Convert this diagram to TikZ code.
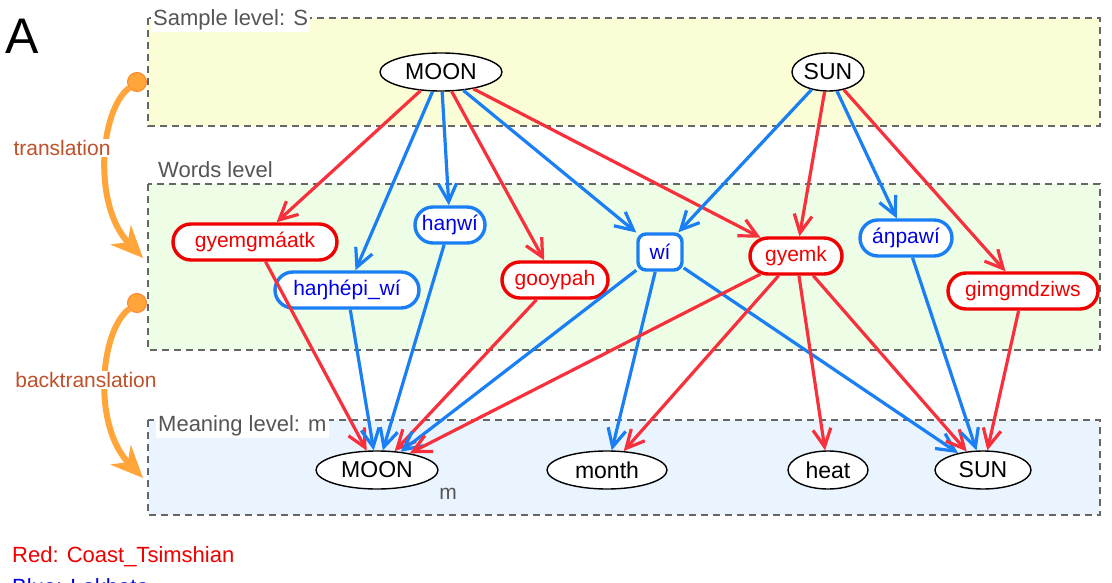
\documentclass[tikz,border=0pt]{standalone}
\usepackage{fontspec}
\setmainfont{Liberation Sans}
\usetikzlibrary{arrows.meta,shapes.geometric,shapes.misc}
\definecolor{ered}{HTML}{F8303C}
\definecolor{eblue}{HTML}{1A7FF5}
\definecolor{tred}{HTML}{F00000}
\definecolor{tblue}{HTML}{0000E6}
\definecolor{lvl}{HTML}{555555}
\definecolor{org}{HTML}{FFA53A}
\definecolor{brn}{HTML}{C0502A}
\tikzset{
 x=1pt,y=-1pt,
 lvlbox/.style={draw=lvl!90,dash pattern=on 7pt off 5pt,line width=1.4pt},
 lvllab/.style={anchor=north west,fill=white,text=lvl,font=\fontsize{22}{24}\selectfont,inner sep=2pt},
 ell/.style={draw,ellipse,line width=1.4pt,fill=white,font=\fontsize{23}{26}\selectfont,inner sep=1pt,minimum height=38pt},
 rw/.style={draw=tred,line width=3.4pt,rounded rectangle,fill=white,text=tred,font=\fontsize{21}{24}\selectfont,minimum height=36pt,inner xsep=2pt},
 bw/.style={draw=eblue,line width=3.4pt,rounded rectangle,fill=white,text=tblue,font=\fontsize{21}{24}\selectfont,minimum height=36pt,inner xsep=2pt},
 re/.style={draw=ered,line width=3.2pt,-{Straight Barb[length=18pt,width=18pt,line width=3.2pt]}},
 be/.style={draw=eblue,line width=3.2pt,-{Straight Barb[length=18pt,width=18pt,line width=3.2pt]}},
 oa/.style={draw=org,line width=6pt,-{Stealth[length=32pt,width=28pt,inset=10pt]}},
}
\begin{document}
\begin{tikzpicture}
\clip (0,0) rectangle (1112,583);
\fill[white] (0,0) rectangle (1112,583);
\fill[fill={rgb,255:red,250;green,253;blue,213}] (148,18) rectangle (1100,126);
\fill[fill={rgb,255:red,238;green,253;blue,230}] (148,184) rectangle (1100,350);
\fill[fill={rgb,255:red,234;green,244;blue,254}] (148,420) rectangle (1100,515);
\draw[lvlbox] (148,18) rectangle (1100,126);
\draw[lvlbox] (148,184) rectangle (1100,350);
\draw[lvlbox] (148,420) rectangle (1100,515);
\node[lvllab] (ls) at (151,7) {Sample level: S};
\node[lvllab] (lw) at (156,159) {Words level};
\node[lvllab] (lm) at (156,413) {Meaning level: m};
\node[anchor=center,font=\fontsize{50}{52}\selectfont] (A) at (22,36) {A};

\node[ell,minimum width=122pt] (MT) at (441,72) {MOON};
\node[ell,minimum width=72pt] (ST) at (828,72) {SUN};
\node[rw,minimum width=168pt] (g1) at (255,242) {gyemgmáatk};
\node[bw,minimum width=148pt] (h1) at (347,290) {haŋhépi\_wí};
\node[bw,minimum width=74pt] (h2) at (450,225) {haŋwí};
\node[rw,minimum width=110pt] (g2) at (555,280) {gooypah};
\node[draw=eblue,line width=3.4pt,rounded corners=8pt,fill=white,text=tblue,font=\fontsize{21}{24}\selectfont,minimum height=36pt,minimum width=44pt,inner xsep=4pt] (w) at (660,252) {wí};
\node[rw,minimum width=96pt] (g3) at (796,256) {gyemk};
\node[bw,minimum width=96pt] (a) at (906,238) {áŋpawí};
\node[rw,minimum width=154pt] (g4) at (1023,291) {gimgmdziws};
\node[ell,minimum width=122pt] (MB) at (377,470) {MOON};
\node[ell,minimum width=120pt] (mo) at (607,470) {month};
\node[ell,minimum width=80pt] (he) at (828,470) {heat};
\node[ell,minimum width=96pt] (SB) at (983,470) {SUN};
\node[text=lvl,font=\fontsize{21}{24}\selectfont] (m) at (448,494) {m};

\draw[re] (MT) -- (g1);
\draw[be] (MT) -- (h1);
\draw[be] (MT) -- (h2);
\draw[re] (MT) -- (g2);
\draw[be] (MT) -- (w);
\draw[re] (MT) -- (g3);
\draw[be] (ST) -- (w);
\draw[re] (ST) -- (g3);
\draw[be] (ST) -- (a);
\draw[re] (ST) -- (g4);
\draw[re] (g1) -- (MB);
\draw[be] (h1) -- (MB);
\draw[be] (h2) -- (MB);
\draw[re] (g2) -- (MB);
\draw[be] (w) -- (MB);
\draw[be] (w) -- (mo);
\draw[be] (w) -- (SB);
\draw[re] (g3) -- (MB);
\draw[re] (g3) -- (mo);
\draw[re] (g3) -- (he);
\draw[re] (g3) -- (SB);
\draw[be] (a) -- (SB);
\draw[re] (g4) -- (SB);

\node[circle,fill=org,draw=org!80!red,line width=1pt,minimum size=19pt,inner sep=0] (c1) at (137,82) {};
\coordinate (t1) at (143,258);
\draw[oa] (c1) .. controls (100,110) and (92,205) .. (t1);
\node[circle,fill=org,draw=org!80!red,line width=1pt,minimum size=19pt,inner sep=0] (c2) at (137,303) {};
\coordinate (t2) at (143,478);
\draw[oa] (c2) .. controls (100,331) and (92,425) .. (t2);
\node[fill=white,text=brn,font=\fontsize{21}{24}\selectfont,inner sep=1pt] (tr) at (62,148) {translation};
\node[fill=white,text=brn,font=\fontsize{21}{24}\selectfont,inner sep=1pt] (bt) at (86,380) {backtranslation};

\node[anchor=west,text=tred,font=\fontsize{22}{24}\selectfont,inner sep=0] (l1) at (12,557) {Red: Coast\_Tsimshian};
\node[anchor=west,text=tblue,font=\fontsize{22}{24}\selectfont,inner sep=0] (l2) at (12,587) {Blue: Lakhota};
\end{tikzpicture}
\end{document}
